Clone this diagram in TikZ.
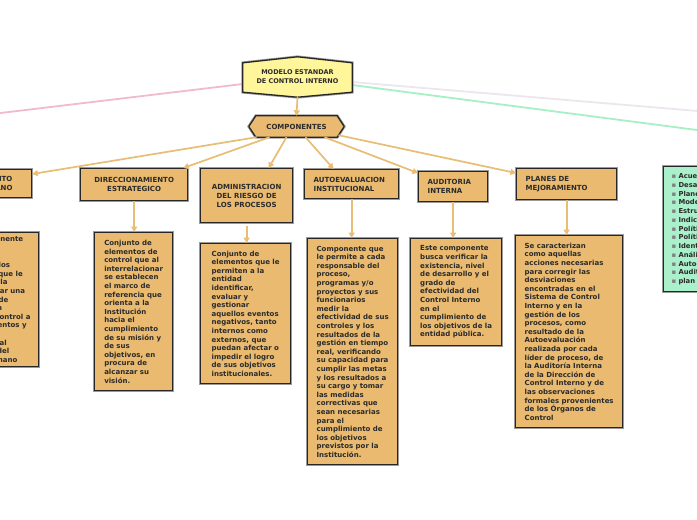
\documentclass[tikz,border=0pt]{standalone}
\usepackage{fontspec}
\setmainfont{DejaVu Sans}
\usetikzlibrary{arrows.meta,backgrounds}
\definecolor{tanc}{HTML}{E9BA6F}
\definecolor{connc}{HTML}{E9BD73}
\definecolor{edgec}{HTML}{262626}
\definecolor{haloc}{HTML}{9A9A9A}
\definecolor{titlec}{HTML}{FFF59A}
\definecolor{greenc}{HTML}{A9F0CB}
\definecolor{pinkc}{HTML}{F2BACF}
\definecolor{lgreenc}{HTML}{A7EFC5}
\definecolor{lavc}{HTML}{EEE6EF}
\definecolor{txtc}{HTML}{2B2B2B}
\begin{document}
\begin{tikzpicture}[x=1pt,y=-1pt,
  conn/.style={draw=connc, line width=1.7pt, -{Triangle[length=5.5pt,width=6pt]}},
  boxbase/.style={draw=edgec, line width=1.3pt, preaction={draw=haloc, line width=2.8pt}},
  headbox/.style={boxbase, fill=tanc, anchor=north west, inner xsep=9pt, inner ysep=0pt, text=txtc, font=\bfseries\fontsize{7}{9}\selectfont},
  headleft/.style={headbox, align=left},
  headcenter/.style={headbox, align=center},
  descbox/.style={boxbase, fill=tanc, anchor=north west, inner xsep=8pt, inner ysep=0pt, text=txtc, align=left, font=\bfseries\fontsize{7}{8.6}\selectfont},
  hexfill/.style={boxbase, line join=round},
  pinkline/.style={draw=pinkc, line width=1.8pt},
  lgreenline/.style={draw=lgreenc, line width=1.8pt},
  lavline/.style={draw=lavc, line width=1.8pt},
  elembox/.style={boxbase, fill=greenc, anchor=north west, inner xsep=8pt, inner ysep=0pt, text=txtc, align=left, font=\bfseries\fontsize{6.8}{8.75}\selectfont}
]
\useasboundingbox (0,0) rectangle (697,520);
\begin{scope}[on background layer]
\fill[white] (0,0) rectangle (697,520);
\end{scope}
\clip (0,0) rectangle (697,520);

% title and components
\node[inner sep=0pt, minimum width=109pt, minimum height=40pt, align=center, text=txtc,
      font=\bfseries\fontsize{6.5}{9}\selectfont] (title) at (297.5,77) {MODELO ESTANDAR\\DE CONTROL INTERNO};
\node[inner sep=0pt, minimum width=95pt, minimum height=21pt, text=txtc,
      font=\bfseries\fontsize{7}{8}\selectfont] (comp) at (296.5,126.5) {COMPONENTES};

% long lines to off-canvas branches
\coordinate (pinkend) at (-200,137);
\coordinate (lavend) at (900,128);
\coordinate (greenend) at (900,156.5);
\begin{scope}[on background layer]
\draw[pinkline] ([yshift=-7pt]title.west) -- (pinkend);
\draw[lavline] ([yshift=-5pt]title.east) -- (lavend);
\draw[lgreenline] ([yshift=-8pt]title.east) -- (greenend);
\draw[hexfill, fill=titlec] ([yshift=-6pt]title.north west) -- (title.north) -- ([yshift=-6pt]title.north east)
   -- ([yshift=5pt]title.south east) -- (title.south) -- ([yshift=5pt]title.south west) -- cycle;
\draw[hexfill, fill=tanc] (comp.west) -- ([xshift=7pt]comp.north west) -- ([xshift=-7pt]comp.north east)
   -- (comp.east) -- ([xshift=-7pt]comp.south east) -- ([xshift=7pt]comp.south west) -- cycle;
\end{scope}

\draw[conn] (title.south) -- (comp.north);

% heading boxes
\node[headcenter, minimum width=74pt, minimum height=28pt] (h0) at (-43,169) {TALENTO\\HUMANO};
\node[headcenter, minimum width=107pt, minimum height=32pt] (h1) at (80,168) {DIRECCIONAMIENTO\\ESTRATEGICO};
\node[headcenter, minimum width=92pt, minimum height=54pt] (h2) at (200,168) {ADMINISTRACION\\DEL RIESGO DE\\LOS PROCESOS};
\node[headleft, text width=76pt, minimum height=29pt] (h3) at (304,169) {AUTOEVALUACION\\INSTITUCIONAL};
\node[headleft, text width=51pt, minimum height=30pt] (h4) at (418,171) {AUDITORIA\\INTERNA};
\node[headleft, text width=82pt, minimum height=31pt] (h5) at (516,168) {PLANES DE\\MEJORAMIENTO};

% description boxes
\node[descbox, minimum width=92pt, minimum height=134pt] (d0) at (-54,232) {Este componente\\tiene como\\propósito\\establecer los\\elementos que le\\permiten a la\\entidad crear una\\conciencia de\\control y un\\adecuado control a\\los lineamientos y\\actividades\\tendientes al\\desarrollo del\\talento humano};
\node[descbox, minimum width=78pt, minimum height=158pt] (d1) at (94,232) {Conjunto de\\elementos de\\control que al\\interrelacionar\\se establecen\\el marco de\\referencia que\\orienta a la\\Institución\\hacia el\\cumplimiento\\de su misión y\\de sus\\objetivos, en\\procura de\\alcanzar su\\visión.};
\node[descbox, minimum width=90pt, minimum height=140pt] (d2) at (200,243) {Conjunto de\\elementos que le\\permiten a la\\entidad\\identificar,\\evaluar y\\gestionar\\aquellos eventos\\negativos, tanto\\internos como\\externos, que\\puedan afectar o\\impedir el logro\\de sus objetivos\\institucionales.};
\node[descbox, minimum width=90pt, minimum height=226pt] (d3) at (307,238) {Componente que\\le permite a cada\\responsable del\\proceso,\\programas y/o\\proyectos y sus\\funcionarios\\medir la\\efectividad de sus\\controles y los\\resultados de la\\gestión en tiempo\\real, verificando\\su capacidad para\\cumplir las metas\\y los resultados a\\su cargo y tomar\\las medidas\\correctivas que\\sean necesarias\\para el\\cumplimiento de\\los objetivos\\previstos por la\\Institución.};
\node[descbox, minimum width=91pt, minimum height=107pt] (d4) at (410,238) {Este componente\\busca verificar la\\existencia, nivel\\de desarrollo y el\\grado de\\efectividad del\\Control Interno\\en el\\cumplimiento de\\los objetivos de la\\entidad pública.};
\node[descbox, minimum width=107pt, minimum height=192pt] (d5) at (515,235) {Se caracterizan\\como aquellas\\acciones necesarias\\para corregir las\\desviaciones\\encontradas en el\\Sistema de Control\\Interno y en la\\gestión de los\\procesos, como\\resultado de la\\Autoevaluación\\realizada por cada\\líder de proceso, de\\la Auditoría Interna\\de la Dirección de\\Control Interno y de\\las observaciones\\formales provenientes\\de los Órganos de\\Control};

% elements box (partly off canvas)
\node[elembox, text width=204pt, minimum height=125pt] (elem) at (663,166) {%
{\color{gray}▪} Acuerdos, compromisos y protocolos éticos\\
{\color{gray}▪} Desarrollo del talento humano\\
{\color{gray}▪} Planes, programas y proyectos\\
{\color{gray}▪} Modelo de operación por procesos\\
{\color{gray}▪} Estructura organizacional\\
{\color{gray}▪} Indicadores de gestión\\
{\color{gray}▪} Políticas de operación\\
{\color{gray}▪} Políticas de administración del riesgo\\
{\color{gray}▪} Identificación del riesgo\\
{\color{gray}▪} Análisis y valoración del riesgo\\
{\color{gray}▪} Autoevaluación institucional\\
{\color{gray}▪} Auditoría interna\\
{\color{gray}▪} plan de mejoramiento};

% connectors from COMPONENTES
\draw[conn] ([xshift=-40pt]comp.south) -- ([yshift=-5pt]h0.north east);
\draw[conn] ([xshift=-27pt]comp.south) -- ([xshift=-5pt]h1.north east);
\draw[conn] ([xshift=-10pt]comp.south) -- ([xshift=22pt]h2.north);
\draw[conn] ([xshift=9pt]comp.south) -- ([xshift=-18pt]h3.north);
\draw[conn] ([xshift=28pt]comp.south) -- ([yshift=-2pt]h4.north west);
\draw[conn] ([xshift=42pt,yshift=2pt]comp.south) -- ([yshift=-5pt]h5.north west);

% heading to description
\draw[conn] (h0.south -| d0.north) -- (d0.north);
\draw[conn] (h1.south) -- (h1.south |- d1.north);
\draw[conn] ([yshift=-3pt]h2.south) -- (h2.south |- d2.north);
\draw[conn] (h3.south) -- (h3.south |- d3.north);
\draw[conn] (h4.south) -- (h4.south |- d4.north);
\draw[conn] (h5.south) -- (h5.south |- d5.north);
\end{tikzpicture}
\end{document}
